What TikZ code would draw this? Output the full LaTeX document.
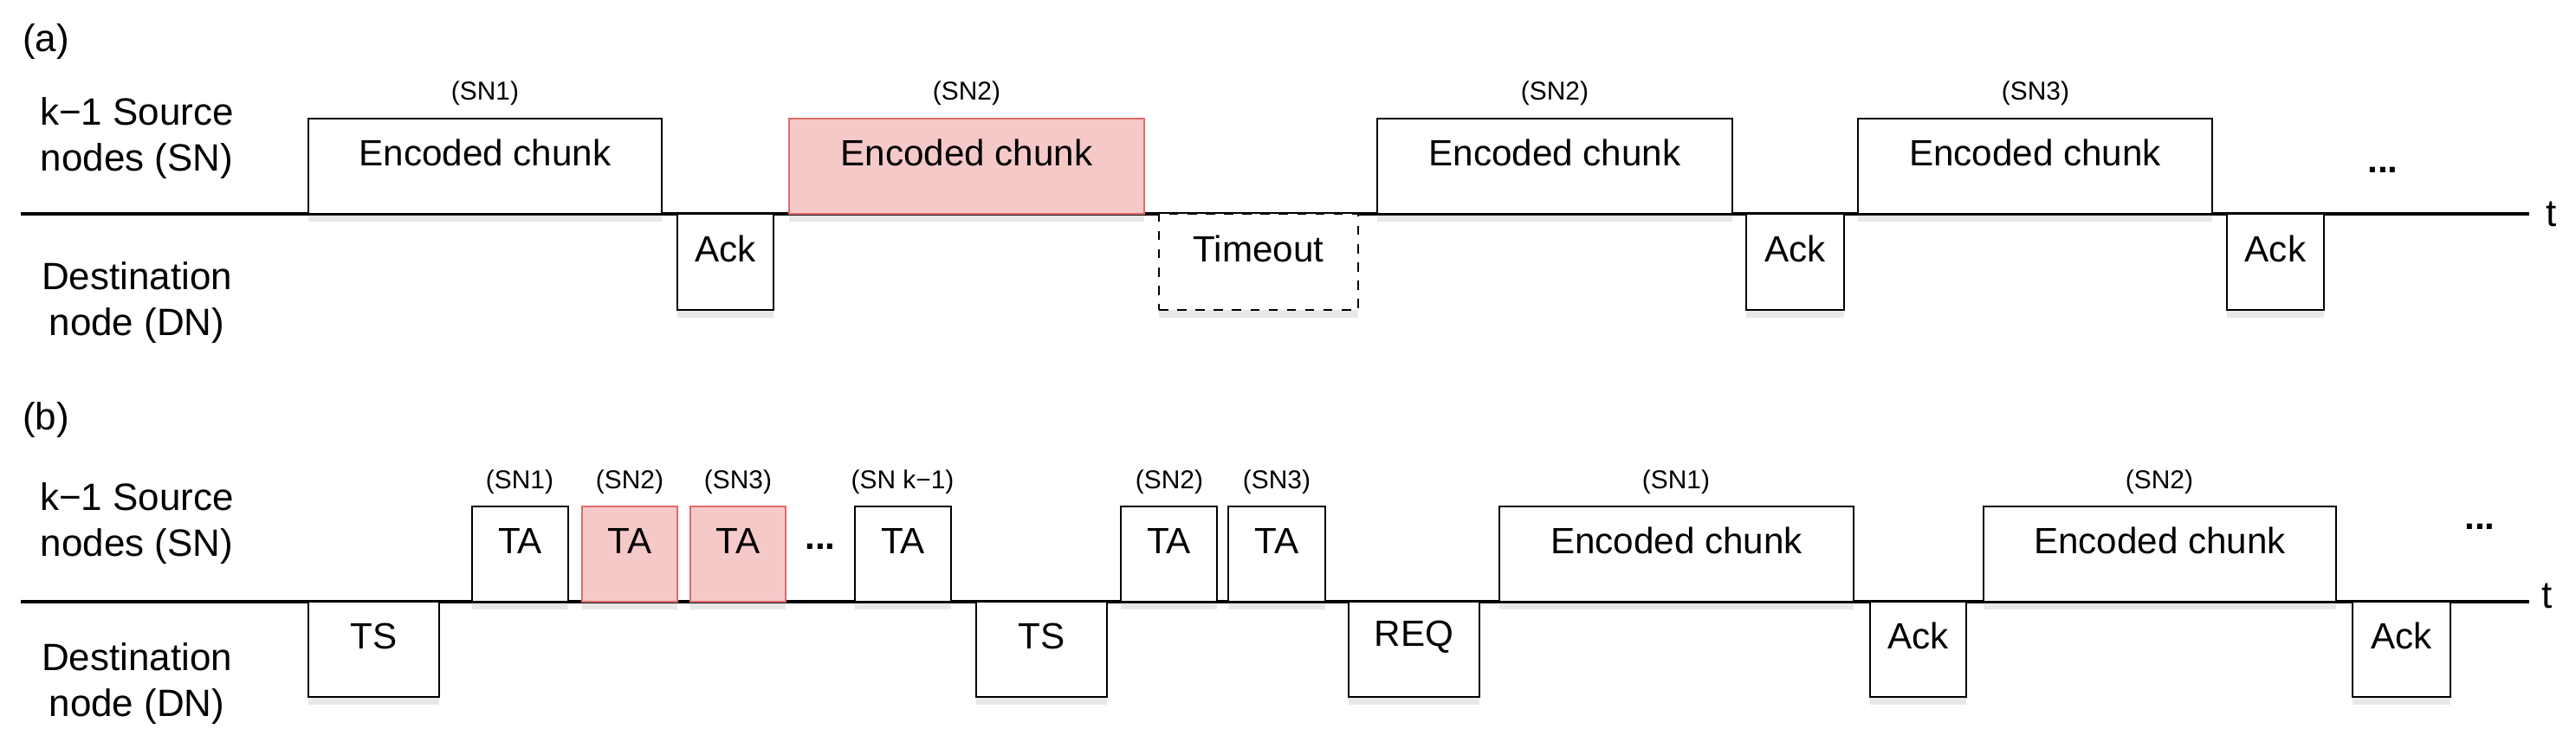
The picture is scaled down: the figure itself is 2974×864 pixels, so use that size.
\documentclass[tikz,border=0pt]{standalone}
\usepackage{fontspec}
\setmainfont{Liberation Sans}
\usetikzlibrary{fit,shadows}
\definecolor{pinkfill}{HTML}{F6C9C9}
\definecolor{pinkline}{HTML}{E06A6A}
\begin{document}
\begin{tikzpicture}[x=0.01cm,y=-0.01cm,
  box/.style={draw=black,line width=0.8pt,fill=white,inner sep=0pt,font=\fontsize{12}{14}\selectfont,
    drop shadow={opacity=0.18,shadow xshift=0pt,shadow yshift=-2.5pt}},
  hot/.style={box,fill=pinkfill,draw=pinkline},
  tout/.style={box,dashed},
  sn/.style={font=\fontsize{8.5}{10}\selectfont},
  side/.style={font=\fontsize{12.5}{15}\selectfont,align=center},
  tl/.style={line width=1.1pt},
  dots/.style={font=\fontsize{12}{14}\selectfont\bfseries}]
\useasboundingbox (0,0) rectangle (2974,864);
% ---------- (a)
\node[side] (la) at (53,48) {(a)};
\node[side] (sa1) at (158,160) {k−1 Source\\nodes (SN)};
\node[side] (da1) at (158,350) {Destination\\node (DN)};
\coordinate (a0) at (24,247);
\coordinate (a1) at (2920,247);
\draw[tl] (a0) -- (a1);
\node[side] (ta) at (2946,247) {t};
\node[box,fit={(356,137)(764,247)}] (ac1) {Encoded chunk};
\node[box,fit={(782,247)(893,358)}] (aa1) {Ack};
\node[hot,fit={(911,137)(1321,247)}] (ac2) {Encoded chunk};
\node[tout,fit={(1338,247)(1568,358)}] (ato) {Timeout};
\node[box,fit={(1590,137)(2000,247)}] (ac3) {Encoded chunk};
\node[box,fit={(2016,247)(2129,358)}] (aa2) {Ack};
\node[box,fit={(2145,137)(2554,247)}] (ac4) {Encoded chunk};
\node[box,fit={(2571,247)(2683,358)}] (aa3) {Ack};
\node[dots] (ad) at (2751,196) {...};
\node[sn] at (560,108) {(SN1)};
\node[sn] at (1116,108) {(SN2)};
\node[sn] at (1795,108) {(SN2)};
\node[sn] at (2350,108) {(SN3)};
% ---------- (b)
\node[side] (lb) at (53,485) {(b)};
\node[side] (sb1) at (158,605) {k−1 Source\\nodes (SN)};
\node[side] (db1) at (158,790) {Destination\\node (DN)};
\coordinate (b0) at (24,695);
\coordinate (b1) at (2920,695);
\draw[tl] (b0) -- (b1);
\node[side] (tb) at (2941,688) {t};
\node[box,fit={(356,695)(507,805)}] (bts1) {TS};
\node[box,fit={(545,585)(656,695)}] (bta1) {TA};
\node[hot,fit={(672,585)(782,695)}] (bta2) {TA};
\node[hot,fit={(797,585)(907,695)}] (bta3) {TA};
\node[dots] (bd1) at (947,631) {...};
\node[box,fit={(987,585)(1098,695)}] (bta4) {TA};
\node[box,fit={(1127,695)(1278,805)}] (bts2) {TS};
\node[box,fit={(1294,585)(1405,695)}] (bta5) {TA};
\node[box,fit={(1418,585)(1530,695)}] (bta6) {TA};
\node[box,fit={(1557,695)(1708,805)}] (breq) {REQ};
\node[box,fit={(1731,585)(2140,695)}] (bc1) {Encoded chunk};
\node[box,fit={(2159,695)(2270,805)}] (ba1) {Ack};
\node[box,fit={(2290,585)(2697,695)}] (bc2) {Encoded chunk};
\node[box,fit={(2716,695)(2829,805)}] (ba2) {Ack};
\node[dots] (bd2) at (2863,608) {...};
\node[sn] at (600,557) {(SN1)};
\node[sn] at (727,557) {(SN2)};
\node[sn] at (852,557) {(SN3)};
\node[sn] at (1042,557) {(SN k−1)};
\node[sn] at (1350,557) {(SN2)};
\node[sn] at (1474,557) {(SN3)};
\node[sn] at (1935,557) {(SN1)};
\node[sn] at (2493,557) {(SN2)};
\end{tikzpicture}
\end{document}
